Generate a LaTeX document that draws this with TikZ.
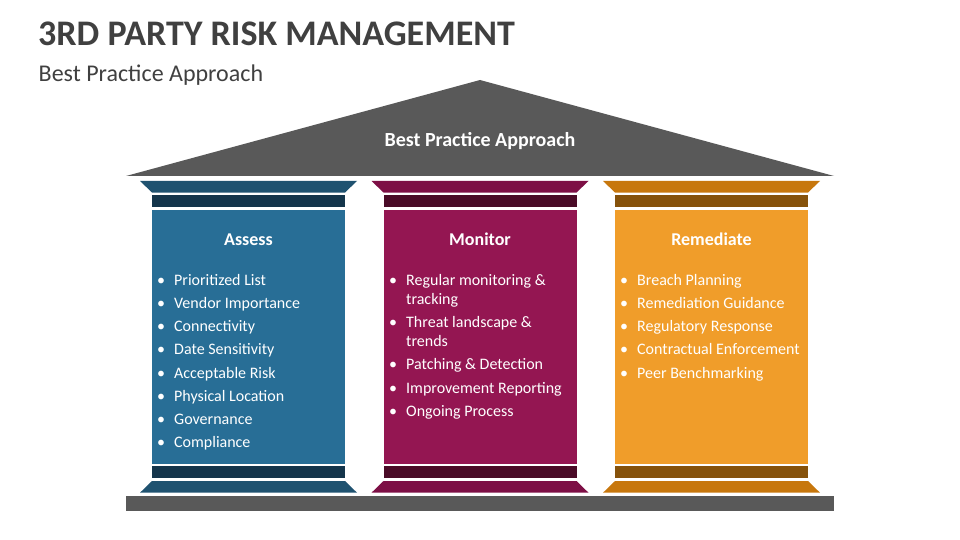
\documentclass[tikz,border=0pt]{standalone}
\usepackage{fontspec}
\setmainfont{Carlito}
\usetikzlibrary{positioning}
\definecolor{rgray}{RGB}{89,89,89}
\definecolor{rtitle}{RGB}{64,64,64}
\definecolor{ablue}{RGB}{40,110,150}
\definecolor{ablue2}{RGB}{31,82,112}
\definecolor{ablue3}{RGB}{20,53,75}
\definecolor{mplum}{RGB}{148,22,82}
\definecolor{mplum2}{RGB}{125,15,69}
\definecolor{mplum3}{RGB}{74,11,39}
\definecolor{rorange}{RGB}{240,157,42}
\definecolor{rorange2}{RGB}{199,119,13}
\definecolor{rorange3}{RGB}{134,82,11}
\newcommand{\lb}{\strut\makebox[17pt][l]{\textbullet}}
\newcommand{\lc}{\strut\hspace*{17pt}}

\begin{document}
\begin{tikzpicture}[x=1pt,y=-1pt,
  body/.style={minimum width=193pt,minimum height=254pt,inner sep=0pt},
  band/.style={minimum width=193pt,minimum height=11.7pt,inner sep=0pt},
  head/.style={font=\fontsize{18}{21}\selectfont\bfseries,text=white,anchor=base},
  list/.style={font=\fontsize{16}{19}\selectfont,text=white,align=left,inner sep=0pt,anchor=north west}
]
  \useasboundingbox (0,0) rectangle (960,540);
  % Title
  \node[anchor=base west,inner sep=0pt,font=\fontsize{36}{40}\selectfont\bfseries,text=rtitle] (title) at (38,46) {3RD PARTY RISK MANAGEMENT};
  \node[anchor=base west,inner sep=0pt,font=\fontsize{24}{28}\selectfont,text=rtitle] (subtitle) at (38.5,81.5) {Best Practice Approach};
  % Roof and ground
  \fill[rgray] (126,176) -- (480,80) -- (834,176) -- cycle;
  \node[font=\fontsize{20}{24}\selectfont\bfseries,text=white,anchor=base] (rooftxt) at (480,146.5) {Best Practice Approach};
  \fill[rgray] (126,496) rectangle (834,511);
  % Pillars
  \foreach \cx/\nm/\cb/\cc/\cd in {248.5/assess/ablue/ablue2/ablue3,480/monitor/mplum/mplum2/mplum3,711.5/remed/rorange/rorange2/rorange3}{
    \fill[\cc] ({\cx-108.5},181) -- ({\cx+108.5},181) -- ({\cx+96.5},192.5) -- ({\cx-96.5},192.5) -- cycle;
    \node[band,fill=\cd] (\nm-top) at (\cx,200.85) {};
    \node[body,fill=\cb] (\nm) at (\cx,337) {};
    \node[band,fill=\cd] (\nm-bot) at (\cx,471.85) {};
    \fill[\cc] ({\cx-96.5},481) -- ({\cx+96.5},481) -- ({\cx+108.5},492.7) -- ({\cx-108.5},492.7) -- cycle;
  }
  % Assess
  \node[head] (assess-h) at (248.5,245.3) {Assess};
  \node[list] (assess-l) at (157,271.7) {\lb Prioritized List\\[4.2pt]
    \lb Vendor Importance\\[4.2pt]
    \lb Connectivity\\[4.2pt]
    \lb Date Sensitivity\\[4.2pt]
    \lb Acceptable Risk\\[4.2pt]
    \lb Physical Location\\[4.2pt]
    \lb Governance\\[4.2pt]
    \lb Compliance};
  % Monitor
  \node[head] (monitor-h) at (480,245.3) {Monitor};
  \node[list] (monitor-l) at (389,271.7) {\lb Regular monitoring \&\\
    \lc tracking\\[4.3pt]
    \lb Threat landscape \&\\
    \lc trends\\[4.3pt]
    \lb Patching \& Detection\\[4.3pt]
    \lb Improvement Reporting\\[4.3pt]
    \lb Ongoing Process};
  % Remediate
  \node[head] (remed-h) at (711.5,245.3) {Remediate};
  \node[list] (remed-l) at (620,271.7) {\lb Breach Planning\\[4.2pt]
    \lb Remediation Guidance\\[4.2pt]
    \lb Regulatory Response\\[4.2pt]
    \lb Contractual Enforcement\\[4.2pt]
    \lb Peer Benchmarking};
\end{tikzpicture}
\end{document}
